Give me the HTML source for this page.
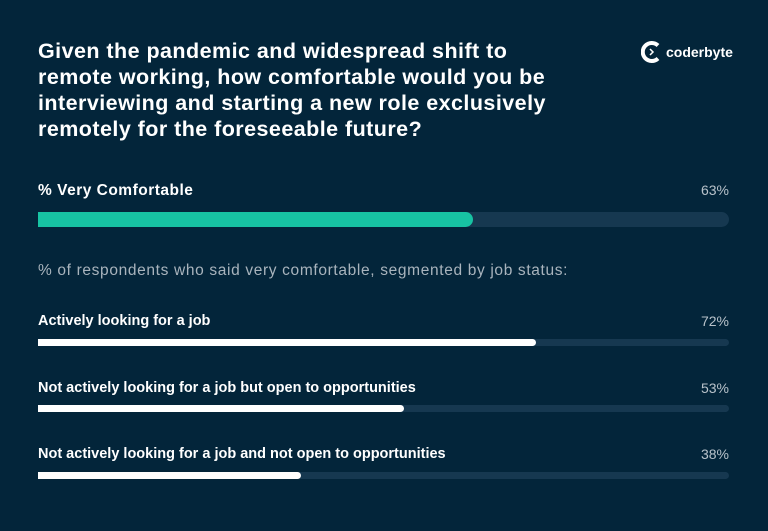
<!DOCTYPE html>
<html><head><meta charset="utf-8"><style>
body{margin:0;width:768px;height:531px;background:#03253a;font-family:"Liberation Sans",sans-serif;overflow:hidden;position:relative;color:#fff}
.t{position:absolute;left:38px;top:38px;font-size:21.5px;font-weight:bold;line-height:26px;width:600px;white-space:nowrap;letter-spacing:0.45px}
.abs{position:absolute}
.lbl{font-weight:bold;font-size:14.5px;left:38px;white-space:nowrap}
.pct{right:39px;font-size:14px;color:#b8c2ca}
.sub{left:38px;top:262px;font-size:15.5px;color:#a9b4bd;letter-spacing:0.65px;white-space:nowrap}
</style></head><body>
<div class="t">Given the pandemic and widespread shift to<br>remote working, how comfortable would you be<br>interviewing and starting a new role exclusively<br>remotely for the foreseeable future?</div>
<div class="abs" style="left:641px;top:41px;display:flex;align-items:center">
<svg width="22" height="22" viewBox="0 0 22 22"><path d="M17 4.5A9 9 0 1 0 17 17.5" stroke="#fff" stroke-width="4" fill="none"/><path d="M9 8l3 3-3 3" stroke="#fff" stroke-width="1.5" fill="none"/></svg>
<span style="font-size:14px;font-weight:bold;margin-left:3px">coderbyte</span></div>
<div id="c"></div>
<script>
const mainLabel=["% Very Comfortable"];
const mainValue=[63];
const segLabels=["Actively looking for a job","Not actively looking for a job but open to opportunities","Not actively looking for a job and not open to opportunities"];
const segValues=[72,53,38];
const c=document.getElementById('c');
const X0=38,W=691;
function x(v){return W*v/100;}
function row(label,val,top,barTop,h,color,name,fs,ls){
 const l=document.createElement('div');l.className='abs lbl';l.style.top=top+'px';l.style.fontSize=fs+'px';l.style.letterSpacing=ls+'px';l.textContent=label;
 
 
 c.appendChild(l);
 const p=document.createElement('div');p.className='abs pct';p.style.top=top+'px';p.textContent=val+'%';
 
 
 c.appendChild(p);
 const t=document.createElement('div');t.className='abs';
 t.style.cssText=`left:${X0}px;top:${barTop}px;width:${W}px;height:${h}px;background:#163850;border-radius:${h/2}px`;
 
 
 c.appendChild(t);
 const b=document.createElement('div');b.className='abs';
 b.style.cssText=`left:${X0}px;top:${barTop}px;width:${x(val)}px;height:${h}px;background:${color};border-radius:0 ${h/2}px ${h/2}px 0`;
 
 
 c.appendChild(b);
}
row(mainLabel[0],mainValue[0],182,212,15,'#17c3a3','very-comfortable',15.5,0.5);
const tops=[313,380,446],bars=[339,405,472];
segValues.forEach((v,i)=>row(segLabels[i],v,tops[i],bars[i],7,'#ffffff','segment-'+(i+1),14.5,0));
</script>
<div class="abs sub">% of respondents who said very comfortable, segmented by job status:</div>
</body></html>
